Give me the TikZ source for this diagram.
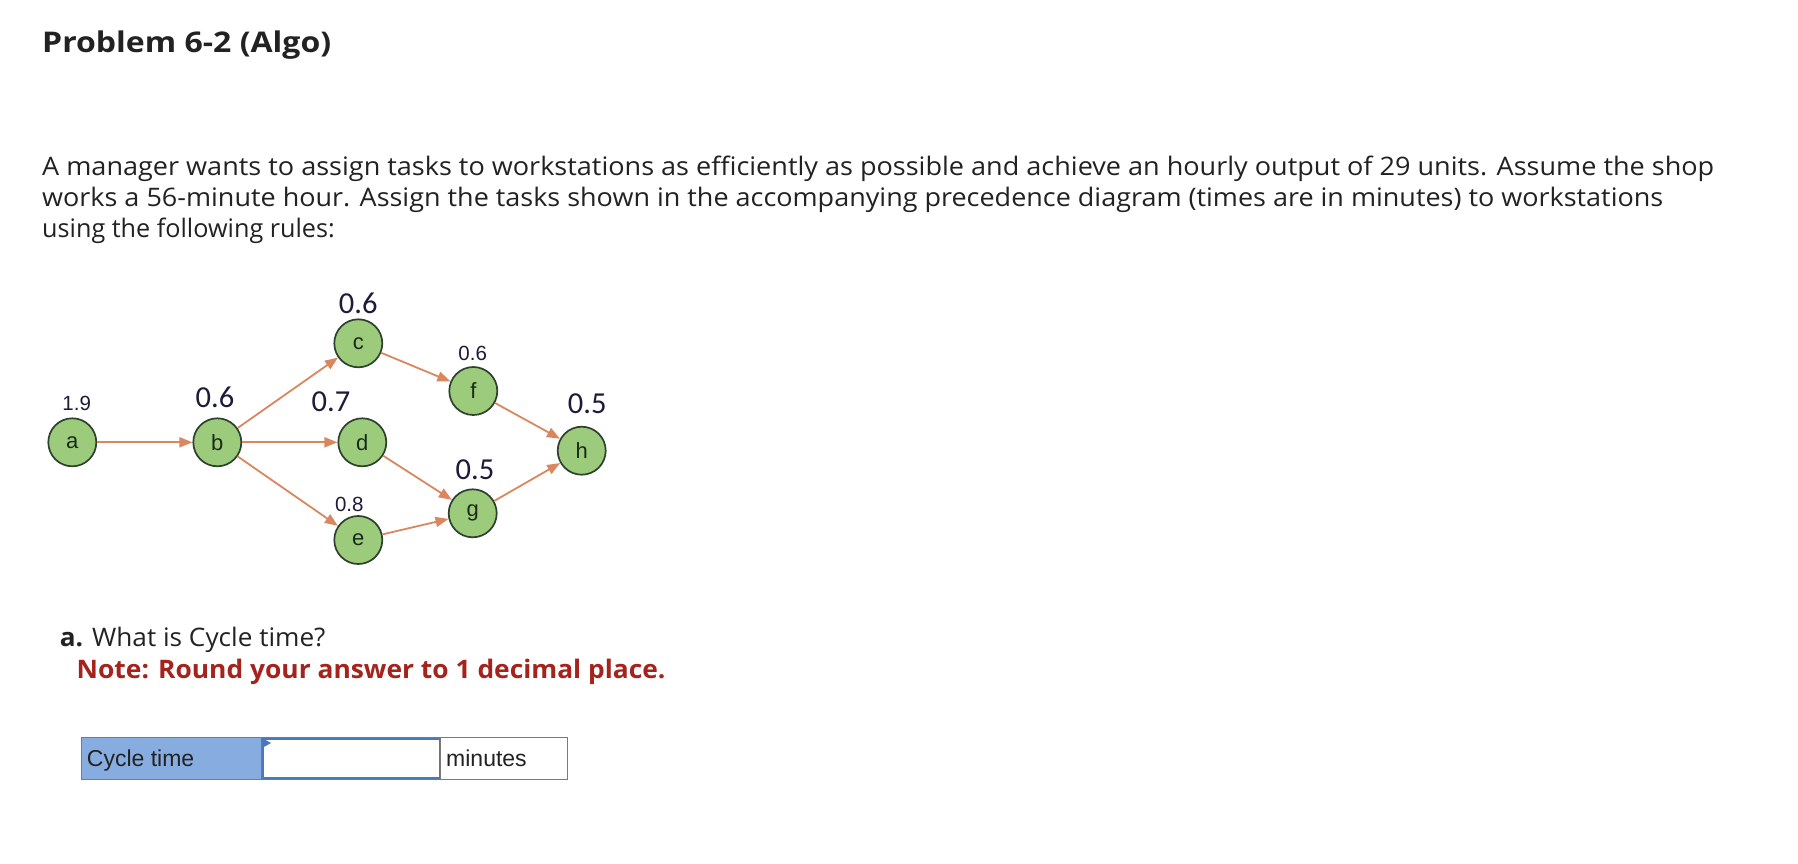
\documentclass[tikz,border=0pt]{standalone}
\usepackage{fontspec}
\setmainfont{Open Sans}
\newfontfamily\arialf{Liberation Sans}
\newfontfamily\calf{Carlito}
\usetikzlibrary{arrows.meta}
\newsavebox\fitbox
\newcommand\fitw[2]{\sbox\fitbox{#2}\xdef\fitratio{\fpeval{(#1)/(\wd\fitbox)}}\scalebox{\fitratio}[1]{\usebox\fitbox}}
\newcommand\mixw[2]{\sbox\fitbox{#2}\edef\mixratio{\fpeval{0.5*\fitratio+0.5*(#1)/(\wd\fitbox)}}\scalebox{\mixratio}[1]{\usebox\fitbox}}
\definecolor{nodefill}{HTML}{9DCB7C}
\definecolor{nodedraw}{HTML}{2E402E}
\definecolor{edgecol}{HTML}{D9875F}
\definecolor{numcol}{HTML}{1C1C3A}
\definecolor{txtcol}{HTML}{222222}
\definecolor{lettercol}{HTML}{1A2A1A}
\definecolor{notecol}{HTML}{A5231D}
\definecolor{cellblue}{HTML}{86ACE0}
\definecolor{cellline}{HTML}{7A7A7A}
\definecolor{inputline}{HTML}{4A78B8}
\tikzset{
  task/.style={circle, draw=nodedraw, line width=1.7pt, fill=nodefill, minimum size=48pt, inner sep=0pt, font=\arialf\fontsize{22}{22}\selectfont, text=lettercol},
  bignum/.style={font=\calf\fontsize{30.5}{30.5}\selectfont, text=numcol, inner sep=0pt},
  smallnum/.style={font=\arialf\fontsize{20.5}{20.5}\selectfont, text=numcol, inner sep=0pt},
  prec/.style={draw=edgecol, line width=1.8pt, -{Triangle[length=13pt,width=10pt]}},
  para/.style={anchor=base west, inner sep=0pt, font=\fontsize{25.5}{25.5}\selectfont, text=txtcol},
  cell/.style={draw=cellline, line width=1pt, anchor=north west, inner sep=0pt, minimum height=41.7pt},
  celltext/.style={anchor=base west, inner sep=0pt, font=\arialf\fontsize{23}{23}\selectfont, text=txtcol},
}
\begin{document}
\begin{tikzpicture}[x=1pt,y=-1pt]
\useasboundingbox (0,0) rectangle (1798,864);
\fill[white] (0,0) rectangle (1798,864);
% paragraph (first, to fix the common horizontal scale)
\node[para] (l1) at (42,175) {\fitw{1672pt}{A manager wants to assign tasks to workstations as efficiently as possible and achieve an hourly output of 29 units. Assume the shop}};
\node[para] (l2) at (42,206.5) {\mixw{1617pt}{works a 56-minute hour. Assign the tasks shown in the accompanying precedence diagram (times are in minutes) to workstations}};
\node[para] (l3) at (42,237) {\mixw{271pt}{using the following rules:}};
% title
\node[anchor=base west, inner sep=0pt, font=\fontsize{28.5}{28.5}\selectfont\bfseries, text=txtcol] (title) at (42,52.5) {\mixw{305pt}{Problem 6-2 (Algo)}};
% diagram nodes
\node[task] (a) at (72.3,442.3) {a};
\node[task] (b) at (217.3,442.3) {b};
\node[task] (c) at (358.3,343.3) {c};
\node[task] (d) at (362.3,442.3) {d};
\node[task] (e) at (358.3,540) {e};
\node[task] (f) at (473.3,391) {f};
\node[task] (g) at (472.7,513.3) {g};
\node[task] (h) at (581.7,450.7) {h};
% labels
\node[smallnum] (la) at (76.7,403.3) {1.9};
\node[bignum] (lb) at (215,397.3) {0.6};
\node[bignum] (lc) at (358.3,303.3) {0.6};
\node[bignum] (ld) at (331,401.7) {0.7};
\node[smallnum] (le) at (349.3,504) {0.8};
\node[smallnum] (lf) at (472.7,353.3) {0.6};
\node[bignum] (lg) at (475,470) {0.5};
\node[bignum] (lh) at (587.3,404) {0.5};
% edges
\draw[prec] (a) -- (b);
\draw[prec] (b) -- (c);
\draw[prec] (b) -- (d);
\draw[prec] (b) -- (e);
\draw[prec] (c) -- (f);
\draw[prec] (d) -- (g);
\draw[prec] (e) -- (g);
\draw[prec] (f) -- (h);
\draw[prec] (g) -- (h);
% question
\node[anchor=base west, inner sep=0pt, font=\fontsize{25.5}{25.5}\selectfont, text=txtcol] (qa) at (59.6,646.7) {\mixw{257pt}{\textbf{a.} What is Cycle time?}};
\node[anchor=base west, inner sep=0pt, font=\fontsize{25.5}{25.5}\selectfont\bfseries, text=notecol] (note) at (76.5,678.3) {\mixw{574pt}{Note: Round your answer to 1 decimal place.}};
% table
\node[cell, fill=cellblue, minimum width=180.3pt] (c1) at (80.7,737) {};
\node[celltext] (c1t) at (86.7,766) {Cycle time};
\node[cell, fill=white, minimum width=179pt] (c2) at (261,737) {};
\draw[draw=inputline, line width=1.8pt] ([shift={(1.6,1.6)}]c2.north west) rectangle ([shift={(-1.6,-1.6)}]c2.south east);
\fill[inputline] ([shift={(1,1)}]c2.north west) -- ++(9,5) -- ++(-9,5) -- cycle;
\node[cell, fill=white, minimum width=126.7pt] (c3) at (440,737) {};
\node[celltext] (c3t) at (446,766) {minutes};
\end{tikzpicture}
\end{document}
